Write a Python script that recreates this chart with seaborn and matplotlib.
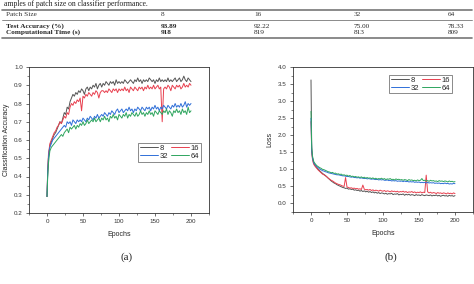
import numpy as np
import pandas as pd
import seaborn as sns
import matplotlib.pyplot as plt
from matplotlib.lines import Line2D
from matplotlib.ticker import MultipleLocator

sns.set_style('ticks')
plt.rcParams['font.family'] = ['Liberation Sans', 'DejaVu Sans']

# table values
patch_sizes = ['8', '16', '32', '64']
test_acc = ['93.89', '92.22', '75.00', '78.33']
comp_time = ['918', '819', '813', '809']

# curves, epochs 0-3 then every 2nd epoch
epochs = [0, 1, 2, 3] + list(range(4, 201, 2))

acc_8 = [0.29, 0.42, 0.50, 0.54,
         0.57, 0.59, 0.61, 0.63, 0.64, 0.66, 0.68, 0.70, 0.69, 0.72,
         0.75, 0.74, 0.78, 0.77, 0.81, 0.83, 0.85, 0.84, 0.86, 0.85,
         0.87, 0.86, 0.88, 0.87, 0.85, 0.88, 0.89, 0.87, 0.89, 0.88,
         0.90, 0.89, 0.91, 0.88, 0.90, 0.91, 0.89, 0.91, 0.90, 0.92,
         0.91, 0.90, 0.92, 0.91, 0.92, 0.90, 0.93, 0.91, 0.92, 0.91,
         0.92, 0.91, 0.93, 0.92, 0.91, 0.92, 0.93, 0.92, 0.91, 0.93,
         0.92, 0.94, 0.92, 0.93, 0.91, 0.93, 0.92, 0.93, 0.92, 0.94,
         0.93, 0.92, 0.93, 0.91, 0.93, 0.92, 0.94, 0.92, 0.93, 0.92,
         0.93, 0.92, 0.94, 0.92, 0.93, 0.92, 0.93, 0.94, 0.92, 0.93,
         0.94, 0.92, 0.93, 0.95, 0.93, 0.92, 0.94, 0.93, 0.92]
acc_16 = [0.29, 0.44, 0.52, 0.55,
          0.58, 0.60, 0.62, 0.64, 0.65, 0.67, 0.68, 0.70, 0.69, 0.71,
          0.73, 0.72, 0.75, 0.74, 0.78, 0.80, 0.79, 0.81, 0.80, 0.82,
          0.81, 0.83, 0.76, 0.84, 0.83, 0.85, 0.84, 0.86, 0.85, 0.84,
          0.86, 0.85, 0.87, 0.86, 0.83, 0.86, 0.87, 0.87, 0.86, 0.87,
          0.86, 0.88, 0.87, 0.86, 0.88, 0.87, 0.88, 0.86, 0.88, 0.87,
          0.88, 0.87, 0.89, 0.87, 0.88, 0.86, 0.89, 0.88, 0.87, 0.89,
          0.88, 0.87, 0.89, 0.88, 0.89, 0.87, 0.89, 0.88, 0.90, 0.88,
          0.89, 0.88, 0.90, 0.88, 0.89, 0.90, 0.88, 0.89, 0.70, 0.88,
          0.89, 0.88, 0.90, 0.89, 0.87, 0.90, 0.89, 0.88, 0.90, 0.89,
          0.90, 0.88, 0.89, 0.91, 0.89, 0.90, 0.89, 0.91, 0.90]
acc_32 = [0.29, 0.43, 0.50, 0.54,
          0.56, 0.58, 0.60, 0.61, 0.62, 0.63, 0.64, 0.65, 0.66, 0.67,
          0.68, 0.67, 0.70, 0.69, 0.70, 0.68, 0.71, 0.70, 0.69, 0.71,
          0.70, 0.71, 0.70, 0.72, 0.71, 0.70, 0.72, 0.71, 0.73, 0.72,
          0.71, 0.73, 0.72, 0.74, 0.72, 0.73, 0.74, 0.73, 0.75, 0.74,
          0.73, 0.75, 0.74, 0.76, 0.75, 0.74, 0.76, 0.77, 0.75, 0.76,
          0.77, 0.75, 0.76, 0.77, 0.76, 0.78, 0.76, 0.77, 0.75, 0.77,
          0.76, 0.78, 0.77, 0.76, 0.78, 0.77, 0.76, 0.78, 0.77, 0.78,
          0.76, 0.78, 0.77, 0.79, 0.77, 0.78, 0.76, 0.78, 0.77, 0.79,
          0.78, 0.77, 0.79, 0.78, 0.77, 0.79, 0.78, 0.80, 0.78, 0.79,
          0.78, 0.80, 0.78, 0.79, 0.81, 0.78, 0.80, 0.79, 0.80]
acc_64 = [0.29, 0.40, 0.47, 0.51,
          0.54, 0.56, 0.57, 0.58, 0.59, 0.60, 0.61, 0.62, 0.63, 0.62,
          0.64, 0.65, 0.66, 0.64, 0.67, 0.66, 0.67, 0.68, 0.66, 0.68,
          0.67, 0.69, 0.68, 0.70, 0.68, 0.69, 0.71, 0.69, 0.70, 0.71,
          0.70, 0.72, 0.70, 0.71, 0.72, 0.70, 0.72, 0.71, 0.73, 0.71,
          0.72, 0.70, 0.73, 0.72, 0.74, 0.72, 0.73, 0.71, 0.74, 0.73,
          0.72, 0.74, 0.73, 0.75, 0.72, 0.74, 0.73, 0.75, 0.74, 0.73,
          0.75, 0.73, 0.74, 0.76, 0.74, 0.75, 0.73, 0.75, 0.74, 0.76,
          0.74, 0.75, 0.73, 0.76, 0.75, 0.74, 0.76, 0.75, 0.74, 0.76,
          0.75, 0.77, 0.74, 0.76, 0.75, 0.73, 0.76, 0.75, 0.77, 0.75,
          0.76, 0.74, 0.77, 0.75, 0.76, 0.74, 0.78, 0.75, 0.76]

loss_8 = [3.62, 1.60, 1.35, 1.25,
          1.18, 1.10, 1.05, 1.00, 0.96, 0.92, 0.88, 0.85, 0.82, 0.78,
          0.74, 0.70, 0.66, 0.63, 0.60, 0.58, 0.55, 0.53, 0.51, 0.49,
          0.47, 0.46, 0.44, 0.45, 0.42, 0.43, 0.41, 0.42, 0.39, 0.40,
          0.38, 0.39, 0.36, 0.38, 0.35, 0.37, 0.34, 0.36, 0.33, 0.35,
          0.32, 0.34, 0.31, 0.33, 0.30, 0.32, 0.29, 0.31, 0.30, 0.28,
          0.30, 0.27, 0.29, 0.28, 0.30, 0.26, 0.28, 0.27, 0.29, 0.25,
          0.27, 0.26, 0.28, 0.24, 0.27, 0.25, 0.27, 0.24, 0.26, 0.25,
          0.23, 0.26, 0.24, 0.25, 0.23, 0.26, 0.24, 0.23, 0.25, 0.24,
          0.23, 0.25, 0.22, 0.24, 0.23, 0.25, 0.22, 0.24, 0.21, 0.23,
          0.24, 0.22, 0.23, 0.21, 0.24, 0.22, 0.23, 0.21, 0.23]
loss_16 = [2.40, 1.50, 1.30, 1.20,
           1.14, 1.08, 1.03, 0.98, 0.94, 0.90, 0.86, 0.84, 0.81, 0.78,
           0.74, 0.71, 0.68, 0.66, 0.63, 0.60, 0.58, 0.56, 0.55, 0.53,
           0.51, 0.50, 0.76, 0.48, 0.47, 0.45, 0.46, 0.44, 0.45, 0.43,
           0.44, 0.42, 0.43, 0.41, 0.54, 0.42, 0.40, 0.41, 0.39, 0.41,
           0.38, 0.40, 0.37, 0.39, 0.38, 0.36, 0.39, 0.37, 0.36, 0.38,
           0.35, 0.37, 0.36, 0.34, 0.37, 0.35, 0.36, 0.34, 0.36, 0.33,
           0.35, 0.34, 0.36, 0.33, 0.35, 0.32, 0.34, 0.33, 0.35, 0.32,
           0.34, 0.31, 0.33, 0.32, 0.34, 0.31, 0.33, 0.32, 0.83, 0.34,
           0.31, 0.33, 0.30, 0.32, 0.31, 0.29, 0.32, 0.30, 0.31, 0.29,
           0.31, 0.30, 0.28, 0.31, 0.29, 0.30, 0.28, 0.31, 0.29]
loss_32 = [2.50, 1.55, 1.35, 1.25,
           1.18, 1.13, 1.08, 1.05, 1.01, 0.99, 0.96, 0.95, 0.93, 0.92,
           0.90, 0.89, 0.88, 0.87, 0.86, 0.85, 0.84, 0.84, 0.83, 0.82,
           0.81, 0.81, 0.80, 0.79, 0.79, 0.78, 0.77, 0.78, 0.76, 0.76,
           0.75, 0.76, 0.74, 0.75, 0.74, 0.73, 0.74, 0.72, 0.73, 0.72,
           0.71, 0.72, 0.71, 0.70, 0.71, 0.69, 0.70, 0.69, 0.70, 0.68,
           0.68, 0.69, 0.67, 0.68, 0.66, 0.67, 0.66, 0.67, 0.65, 0.66,
           0.65, 0.66, 0.64, 0.66, 0.64, 0.65, 0.63, 0.64, 0.63, 0.64,
           0.62, 0.63, 0.62, 0.63, 0.61, 0.62, 0.61, 0.62, 0.60, 0.62,
           0.60, 0.61, 0.60, 0.61, 0.59, 0.60, 0.59, 0.60, 0.58, 0.59,
           0.58, 0.60, 0.58, 0.59, 0.57, 0.58, 0.57, 0.59, 0.58]
loss_64 = [2.70, 1.65, 1.40, 1.30,
           1.22, 1.16, 1.11, 1.08, 1.05, 1.03, 1.00, 0.99, 0.97, 0.95,
           0.93, 0.92, 0.90, 0.91, 0.88, 0.89, 0.86, 0.87, 0.85, 0.86,
           0.83, 0.84, 0.82, 0.83, 0.80, 0.82, 0.79, 0.80, 0.78, 0.79,
           0.77, 0.78, 0.76, 0.78, 0.75, 0.77, 0.74, 0.76, 0.74, 0.75,
           0.73, 0.75, 0.72, 0.74, 0.71, 0.73, 0.72, 0.74, 0.71, 0.73,
           0.70, 0.72, 0.71, 0.73, 0.70, 0.71, 0.69, 0.72, 0.70, 0.71,
           0.69, 0.70, 0.68, 0.70, 0.69, 0.67, 0.70, 0.68, 0.69, 0.67,
           0.68, 0.66, 0.69, 0.67, 0.68, 0.73, 0.67, 0.68, 0.66, 0.67,
           0.65, 0.68, 0.66, 0.67, 0.65, 0.66, 0.64, 0.67, 0.65, 0.66,
           0.64, 0.66, 0.65, 0.63, 0.66, 0.64, 0.65, 0.63, 0.64]

colors = {'8': '#555555', '16': '#e8404f', '32': '#2f6fd8', '64': '#2ea55e'}

def long_df(series):
    rows = []
    for name, vals in series.items():
        assert len(vals) == len(epochs), (name, len(vals))
        for e, v in zip(epochs, vals):
            rows.append((e, v, name))
    return pd.DataFrame(rows, columns=['Epochs', 'value', 'Patch'])

acc_df = long_df({'8': acc_8, '16': acc_16, '32': acc_32, '64': acc_64})
loss_df = long_df({'8': loss_8, '16': loss_16, '32': loss_32, '64': loss_64})

W, H = 474, 284
fig = plt.figure(figsize=(W / 100, H / 100), dpi=100)

def px_axes(x0, y0, x1, y1):
    return fig.add_axes([x0 / W, 1 - y1 / H, (x1 - x0) / W, (y1 - y0) / H])

def fy(y):
    return 1 - y / H

# ---- table at the top ----
serif = ['Liberation Serif', 'DejaVu Serif']
fig.text(4 / W, fy(4), 'amples of patch size on classifier performance.', family=serif,
         fontsize=5.5, va='center', color='#222222')
for y, lw in [(10, 1.2), (20, 0.6), (38, 1.2)]:
    fig.add_artist(Line2D([2 / W, 472 / W], [fy(y), fy(y)], color='#777777', lw=lw))
col_x = [161, 254, 354, 448]
fig.text(6 / W, fy(14), 'Patch Size', family=serif, fontsize=5.2, va='center', color='#333333')
fig.text(6 / W, fy(26), 'Test Accuracy (%)', family=serif, fontsize=5.2, va='center', weight='bold')
fig.text(6 / W, fy(32.5), 'Computational Time (s)', family=serif, fontsize=5.2, va='center', weight='bold')
for i, x in enumerate(col_x):
    bold = 'bold' if i == 0 else 'normal'
    fig.text(x / W, fy(14), patch_sizes[i], family=serif, fontsize=5.2, va='center', color='#333333')
    fig.text(x / W, fy(26), test_acc[i], family=serif, fontsize=5.2, va='center', weight=bold)
    fig.text(x / W, fy(32.5), comp_time[i], family=serif, fontsize=5.2, va='center', weight=bold)

# ---- plots ----
ax1 = px_axes(29, 67, 209, 213)
ax2 = px_axes(293, 67, 473, 212)
order = ['8', '16', '32', '64']

for ax, df, ylab in [(ax1, acc_df, 'Classification Accuracy'), (ax2, loss_df, 'Loss')]:
    sns.lineplot(data=df, x='Epochs', y='value', hue='Patch', hue_order=order,
                 palette=colors, linewidth=0.7, ax=ax)
    ax.set_xlim(-25, 225)
    ax.xaxis.set_major_locator(MultipleLocator(50))
    ax.xaxis.set_minor_locator(MultipleLocator(25))
    ax.tick_params(which='major', direction='out', length=2.5, width=0.5, labelsize=4.5,
                   pad=2, colors='#333333')
    ax.tick_params(which='minor', direction='out', length=1.5, width=0.4)
    for s in ax.spines.values():
        s.set_visible(True)
        s.set_linewidth(0.6)
        s.set_color('#333333')
    ax.set_xlabel('Epochs', fontsize=5, labelpad=5)
    ax.set_ylabel(ylab, fontsize=5, labelpad=3)
    h, l = ax.get_legend_handles_labels()
    hd = dict(zip(l, h))
    ax.legend([hd['8'], hd['32'], hd['16'], hd['64']], ['8', '32', '16', '64'], ncol=2,
              fontsize=5.5, frameon=True, fancybox=False, edgecolor='#333333',
              handlelength=2.4, handletextpad=0.2, columnspacing=0.4, labelspacing=0.1,
              borderpad=0.2, borderaxespad=0,
              loc='upper left' if ax is ax1 else 'upper right',
              bbox_to_anchor=(0.606, 0.479) if ax is ax1 else (0.883, 0.945))
    ax.get_legend().get_frame().set_linewidth(0.5)

ax1.set_ylim(0.2, 1.0)
ax1.yaxis.set_major_locator(MultipleLocator(0.1))
ax1.yaxis.set_minor_locator(MultipleLocator(0.05))
ax2.set_ylim(-0.25, 4.0)
ax2.yaxis.set_major_locator(MultipleLocator(0.5))
ax2.yaxis.set_minor_locator(MultipleLocator(0.25))

fig.text(127 / W, fy(257), '(a)', family=serif, fontsize=8, ha='center', va='center')
fig.text(391 / W, fy(257), '(b)', family=serif, fontsize=8, ha='center', va='center')

fig.savefig('out.png', dpi=100)
